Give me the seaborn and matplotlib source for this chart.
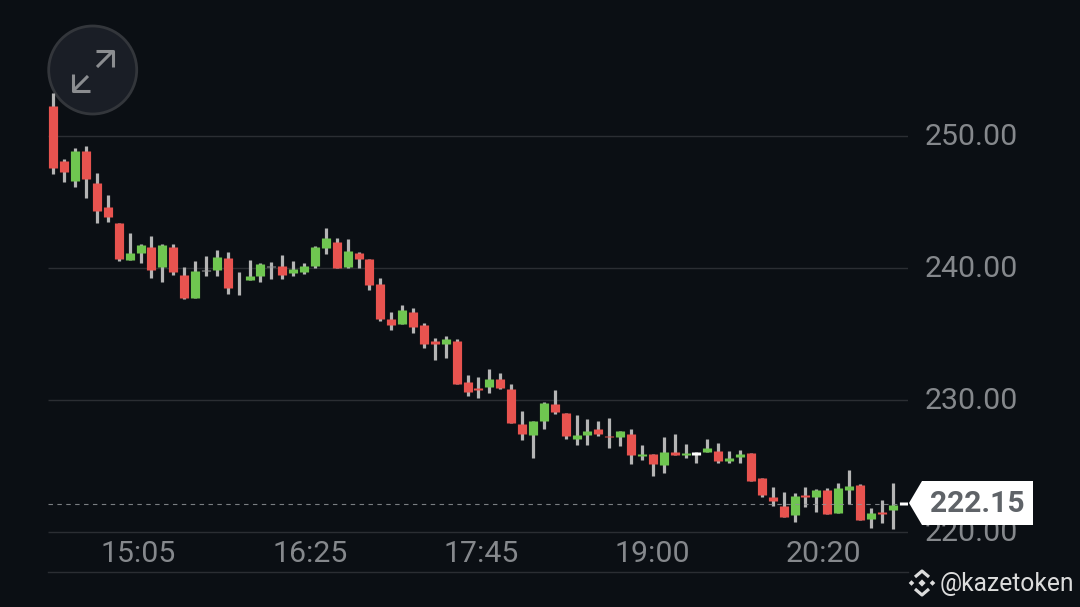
import pandas as pd
import matplotlib.pyplot as plt
import seaborn as sb
from matplotlib.patches import Circle, Polygon
from matplotlib.transforms import Affine2D

# candle values
highs = [253.23, 248.28, 249.11, 249.27, 247.17, 245.53, 243.38, 242.62, 241.84, 242.42,
         241.82, 241.79, 240.10, 240.55, 240.91, 241.39, 241.18, 239.72, 240.60, 240.40,
         240.45, 240.96, 240.55, 240.35, 241.64, 243.03, 242.29, 242.17, 241.21, 240.65,
         239.26, 236.66, 237.17, 236.94, 235.85, 234.67, 234.82, 234.59, 231.86, 231.71,
         232.32, 232.02, 231.21, 229.16, 228.38, 229.82, 230.75, 228.99, 228.83, 228.53,
         228.43, 228.61, 227.65, 227.83, 226.59, 225.91, 227.22, 227.40, 226.64, 226.06,
         227.02, 226.72, 226.11, 226.21, 226.01, 224.09, 223.43, 223.03, 222.98, 223.38,
         223.28, 223.31, 223.69, 224.70, 223.64, 221.84, 222.42, 223.69, 222.24]
lows = [247.09, 246.49, 246.16, 245.33, 243.38, 243.51, 240.50, 240.63, 240.35, 239.21,
        238.91, 239.49, 237.65, 237.70, 239.42, 239.42, 238.03, 237.98, 239.09, 238.94,
        239.19, 239.16, 239.42, 239.52, 240.00, 241.08, 239.97, 240.00, 239.97, 238.35,
        236.01, 235.30, 235.78, 235.10, 233.91, 233.05, 233.15, 231.23, 230.32, 230.15,
        230.50, 230.80, 228.23, 226.99, 225.63, 227.82, 228.96, 227.07, 226.59, 226.56,
        227.30, 226.39, 226.54, 225.18, 225.43, 224.24, 224.49, 225.81, 225.63, 225.23,
        226.04, 225.25, 225.25, 225.25, 223.89, 222.68, 221.97, 221.11, 220.76, 221.87,
        221.54, 221.39, 221.41, 222.15, 220.93, 220.33, 220.68, 220.25, 222.06]
body_top = [252.27, 248.10, 248.86, 248.86, 246.44, 244.62, 243.38, 241.11, 241.74, 241.59,
            241.71, 241.59, 239.49, 239.75, 239.85, 240.83, 240.76, 238.94, 239.39, 240.28,
            240.12, 240.15, 239.95, 240.12, 241.59, 242.27, 241.97, 241.31, 241.13, 240.65,
            238.76, 236.11, 236.79, 236.66, 235.65, 234.44, 234.59, 234.44, 231.33, 230.88,
            231.59, 231.59, 230.80, 228.18, 228.38, 229.77, 229.72, 228.99, 227.32, 227.62,
            227.78, 227.27, 227.65, 227.45, 225.91, 225.91, 226.04, 226.06, 225.96, 226.06,
            226.34, 226.14, 225.58, 225.88, 225.98, 224.09, 222.63, 221.97, 222.73, 222.78,
            223.18, 223.18, 223.33, 223.48, 223.56, 221.41, 221.49, 222.07, 222.24]
body_bot = [247.60, 247.30, 246.56, 246.71, 244.29, 243.84, 240.65, 240.63, 241.13, 239.87,
            240.07, 239.72, 237.70, 237.75, 239.80, 239.87, 238.51, 238.91, 239.09, 239.37,
            240.10, 239.49, 239.59, 239.72, 240.12, 241.51, 239.97, 240.10, 240.70, 238.68,
            236.13, 235.70, 235.78, 235.53, 234.26, 234.26, 234.26, 231.23, 230.63, 230.78,
            230.98, 230.91, 228.23, 227.42, 227.34, 228.43, 229.11, 227.27, 227.07, 227.37,
            227.40, 227.17, 227.17, 225.81, 225.78, 225.18, 225.10, 225.86, 225.81, 225.86,
            226.04, 225.35, 225.35, 225.66, 223.89, 222.80, 222.35, 221.16, 221.26, 222.65,
            222.65, 221.39, 221.41, 223.18, 220.93, 220.98, 221.39, 221.64, 222.06]
# r = down, g = up, n = doji, w = latest/unchanged
kinds = list("rrgrrrrggrgrrgngrnggnrggggrgrrrrgrrrgrrrgrrrggrrggrrgrgrgrgwgrggrrrrgrgrggrgrgw")

y_ticks = [220, 230, 240, 250]
y_labels = ["220.00", "230.00", "240.00", "250.00"]
time_labels = ["15:05", "16:25", "17:45", "19:00", "20:20"]
time_pos = [7.77, 23.55, 39.29, 54.98, 70.67]
last_price = 222.15

BG = "#0b0f14"
GRID = "#2b2e33"
TXT = "#85888c"
body_colors = {"r": "#e8534f", "g": "#6fc650", "n": "#9a9a9a", "w": "#ffffff"}

sb.set_theme(style="dark", rc={"lines.solid_capstyle": "butt", "axes.facecolor": BG, "figure.facecolor": BG})
plt.rcParams["font.family"] = ["Roboto", "DejaVu Sans"]

df = pd.DataFrame({"i": range(len(highs)), "high": highs, "low": lows,
                   "top": body_top, "bot": body_bot, "kind": kinds})
wicks = df[df["kind"] != "w"].melt(id_vars=["i"], value_vars=["high", "low"], value_name="price")
wicks = pd.concat([wicks, df[df["i"] == 59].melt(id_vars=["i"], value_vars=["high", "low"], value_name="price")])
bodies = df.melt(id_vars=["i", "kind"], value_vars=["top", "bot"], value_name="price")

fig = plt.figure(figsize=(10.8, 6.07), dpi=100)
ax = fig.add_axes([48 / 1080, 35 / 607, 860 / 1080, 572 / 607])
ax.set_zorder(2)

# pixel coords from top-left, for the bits that aren't data
px = Affine2D().scale(1, -1).translate(0, 607)

# expand button
ax.add_patch(Circle((92.7, 70), 44, transform=px, facecolor="#1a1e26", edgecolor="#33363b",
                    linewidth=2, clip_on=False, zorder=0))
for xs, ys in [([96, 113, 113], [51, 51, 67]), ([97, 112], [67, 52]),
               ([73, 73, 90], [74, 91, 91]), ([74, 88], [90, 76])]:
    ax.plot(xs, ys, transform=px, color="#8b8d90", lw=2.2, clip_on=False, zorder=1)

ax.set_yticks(y_ticks, y_labels)
ax.set_xticks(time_pos, time_labels)
ax.yaxis.tick_right()
ax.grid(True, axis="y", color=GRID, lw=1)
ax.grid(False, axis="x")
ax.tick_params(axis="y", length=0, pad=12, labelsize=21.8, labelcolor=TXT)
ax.tick_params(axis="x", length=0, pad=-23, labelsize=21.8, labelcolor=TXT)
for lab in ax.get_yticklabels():
    lab.set_transform(lab.get_transform() + Affine2D().translate(0, 2))
for s in ["top", "left", "right"]:
    ax.spines[s].set_visible(False)
ax.spines["bottom"].set_color(GRID)
ax.spines["bottom"].set_linewidth(1)

ax.hlines(last_price, -0.486, 77.6, color="#8f9296", lw=0.8, linestyles=(0, (4, 4)), alpha=0.85, zorder=5)

sb.lineplot(data=wicks, x="i", y="price", units="i", estimator=None, color="#b4b4b4",
            linewidth=2.3, legend=False, ax=ax, zorder=3)
sb.lineplot(data=bodies, x="i", y="price", hue="kind", units="i", estimator=None,
            palette=body_colors, linewidth=6.6, legend=False, ax=ax, zorder=4)

ax.set_xlim(-0.486, 78.41)
ax.set_ylim(216.97, 260.30)
ax.set_xlabel("")
ax.set_ylabel("")

# price flag
ax.add_patch(Polygon([(909, 503), (922, 481), (1033, 481), (1033, 525), (922, 525)], transform=px,
                     facecolor="white", edgecolor="none", clip_on=False, zorder=8))
ax.text(977.5, 504, "222.15", transform=px, ha="center", va="center", fontsize=21.6,
        fontweight="bold", color="#5f6368", zorder=9)

# watermark
wm = "#dcdcdc"
for cx, cy, r in [(922, 583, 3.6), (911.5, 583, 2.8), (932.5, 583, 2.8)]:
    ax.add_patch(Polygon([(cx - r, cy), (cx, cy - r), (cx + r, cy), (cx, cy + r)], transform=px,
                         facecolor=wm, edgecolor="none", clip_on=False, zorder=9))
for ys in [[577, 571, 577], [589, 595, 589]]:
    ax.plot([915, 922, 929], ys, transform=px, color=wm, lw=2.3, clip_on=False, zorder=9)
ax.text(940, 584, "@kazetoken", transform=px, ha="left", va="center", fontsize=17.7, color=wm, zorder=9)

fig.savefig("out.png", dpi=100, facecolor=BG)
